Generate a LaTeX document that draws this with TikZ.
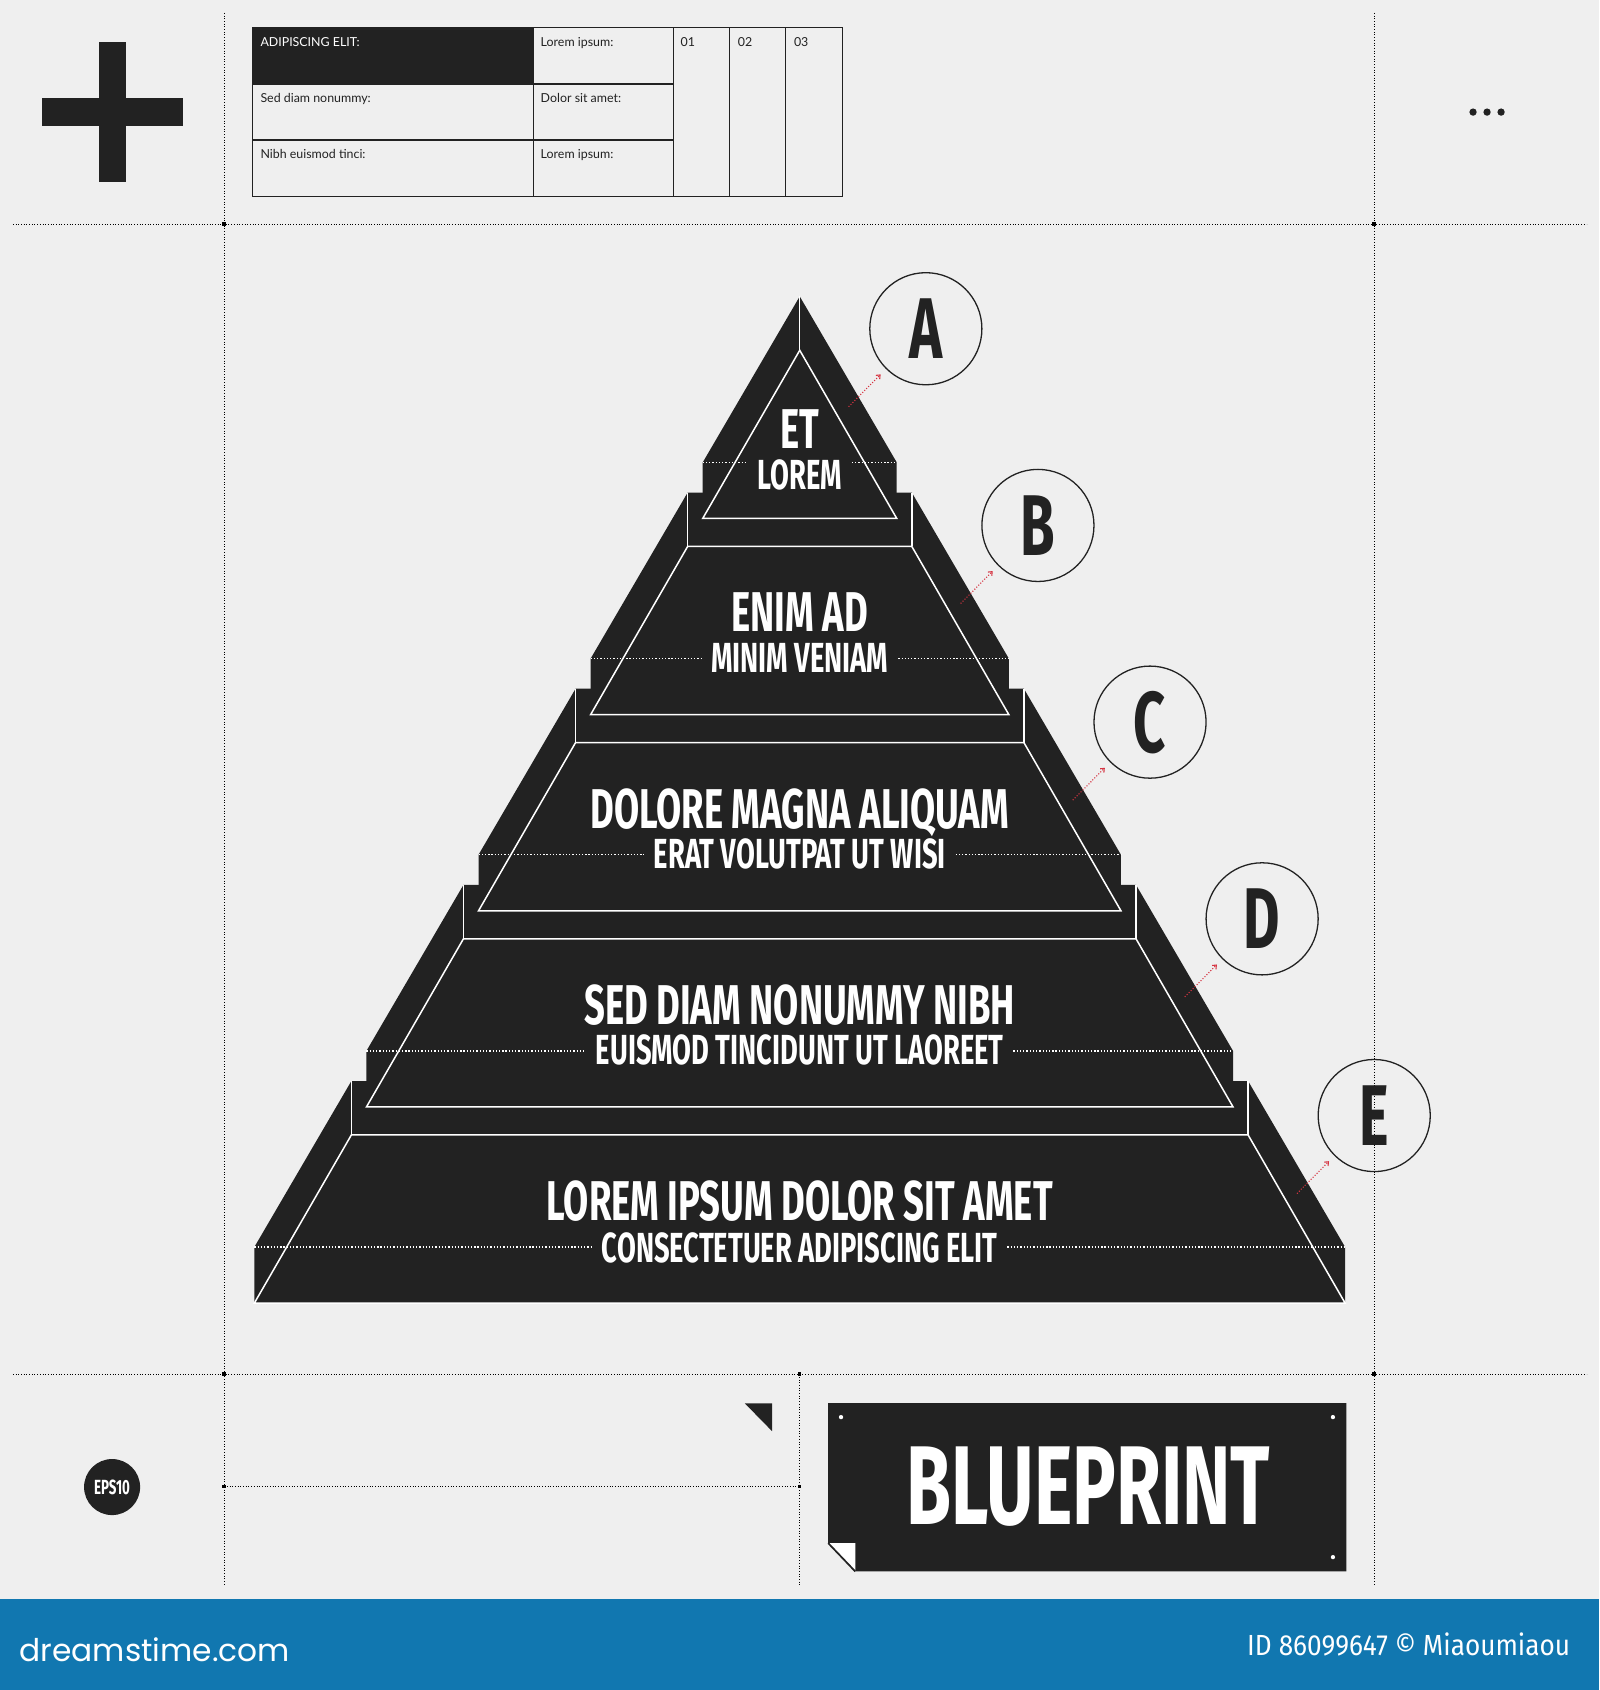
\documentclass[tikz,border=0pt]{standalone}
\usepackage{fontspec}
\usetikzlibrary{arrows.meta,calc}
\newfontfamily\bebas{Fira Sans}[FakeStretch=0.65]
\newfontfamily\tabfont{Lato}
\newfontfamily\idfont{Fira Sans}[FakeStretch=0.9]
\newfontfamily\logofont{Poppins}
\definecolor{bg}{RGB}{239,239,239}
\definecolor{ink}{RGB}{34,34,34}
\definecolor{banner}{RGB}{17,119,176}
\definecolor{arrowred}{RGB}{214,52,66}
\begin{document}
\begin{tikzpicture}[x=1pt,y=-1pt,
  guide/.style={draw=black, line width=0.9pt, dash pattern=on 0.9pt off 1.6pt},
  tabline/.style={draw=ink, line width=1.3pt},
  tabtext/.style={font=\tabfont\fontsize{11.5}{12}\selectfont, text=ink, anchor=base west, inner sep=0pt},
  wline/.style={draw=white, line width=1.4pt},
  wdot/.style={draw=white, line width=1.2pt, dash pattern=on 1.2pt off 1.8pt},
  tiertitle/.style={font=\bebas\bfseries\fontsize{52}{52}\selectfont, text=white, anchor=base, inner sep=0pt},
  tiersub/.style={font=\bebas\bfseries\fontsize{39}{39}\selectfont, text=white, anchor=base, inner sep=0pt},
  lettercirc/.style={circle, draw=ink, line width=1.2pt, minimum size=104pt, inner sep=0pt, text=ink, font=\bebas\bfseries\fontsize{80}{80}\selectfont},
  redarrow/.style={draw=arrowred, line width=1pt, dash pattern=on 1pt off 1.6pt, -{Straight Barb[length=3pt,width=5pt]}, shorten >=7pt},
  crossmark/.style={fill=black}
]
\useasboundingbox (0,0) rectangle (1484,1568);
\fill[bg] (0,0) rectangle (1484,1568);
% banner
\fill[banner] (0,1484) rectangle (1484,1568);
\node[font=\logofont\fontsize{29}{29}\selectfont, text=white, anchor=base west, inner sep=0pt] (logo) at (18,1542) {dreamstime.com};
\node[font=\idfont\fontsize{27}{27}\selectfont, text=white, anchor=base east, inner sep=0pt] (imgid) at (1457,1536) {ID 86099647 © Miaoumiaou};
% guides
\draw[guide] (12,208) -- (1472,208);
\draw[guide] (12,1275) -- (1472,1275);
\draw[guide] (208,12) -- (208,1471);
\draw[guide] (1275,12) -- (1275,1471);
\draw[guide] (742,1275) -- (742,1471);
\draw[guide] (208,1379) -- (742,1379);
\foreach \p in {(208,208),(1275,208),(208,1275),(1275,1275),(742,1275),(208,1379),(742,1379)}
  \fill[crossmark] \p ++(-1.6,-1.6) rectangle ++(3.2,3.2);
% plus
\fill[ink] (91.5,39.3) rectangle (117.1,169.3);
\fill[ink] (39.3,91.3) rectangle (169.4,117.1);
% dots
\foreach \x in {1366.7,1379.7,1392.7} \fill[ink] (\x,104) circle (3.4pt);
% table
\fill[ink] (234.2,25.7) rectangle (494.8,78);
\draw[tabline] (234.2,25.7) rectangle (781.4,182.5);
\draw[tabline] (234.2,78) -- (624.6,78);
\draw[tabline] (234.2,130) -- (624.6,130);
\foreach \x in {494.8,624.6,677.1,729} \draw[tabline] (\x,25.7) -- (\x,182.5);
\node[tabtext, text=white] (t11) at (241.5,43.3) {ADIPISCING ELIT:};
\node[tabtext] (t12) at (501.5,43.3) {Lorem ipsum:};
\node[tabtext] (t13) at (631.3,43.3) {01};
\node[tabtext] (t14) at (684.5,43.3) {02};
\node[tabtext] (t15) at (736.5,43.3) {03};
\node[tabtext] (t21) at (241.5,95) {Sed diam nonummy:};
\node[tabtext] (t22) at (501.5,95) {Dolor sit amet:};
\node[tabtext] (t31) at (241.5,147) {Nibh euismod tinci:};
\node[tabtext] (t32) at (501.5,147) {Lorem ipsum:};
% pyramid fills
\foreach \k in {0,...,4} {
  \pgfmathsetmacro\T{275+182*\k}
  \pgfmathsetmacro\D{429+182*\k}
  \pgfmathsetmacro\Y{481+182*\k}
  \pgfmathsetmacro\s{104*\k}
  \pgfmathsetmacro\b{104*\k+90}
  \fill[ink] (742-\s,\T) -- (742-\b,\D) -- (742-\b,\Y) -- (742+\b,\Y) -- (742+\b,\D) -- (742+\s,\T) -- cycle;
}
% tier texts
\node[tiertitle] (tt0) at (742,416) {ET};
\node[tiersub] (ts0) at (742,454) {LOREM};
\node[tiertitle] (tt1) at (742,586.2) {ENIM AD};
\node[tiersub] (ts1) at (742,624.3) {MINIM VENIAM};
\node[tiertitle] (tt2) at (742,768.7) {DOLORE MAGNA ALIQUAM};
\node[tiersub] (ts2) at (742,805.9) {ERAT VOLUTPAT UT WISI};
\node[tiertitle] (tt3) at (742,950.3) {SED DIAM NONUMMY NIBH};
\node[tiersub] (ts3) at (742,987.8) {EUISMOD TINCIDUNT UT LAOREET};
\node[tiertitle] (tt4) at (742,1132.3) {LOREM IPSUM DOLOR SIT AMET};
\node[tiersub] (ts4) at (742,1170.9) {CONSECTETUER ADIPISCING ELIT};
% pyramid lines
\foreach \k in {0,...,4} {
  \pgfmathsetmacro\T{275+182*\k}
  \pgfmathsetmacro\S{325+182*\k}
  \pgfmathsetmacro\D{429+182*\k}
  \pgfmathsetmacro\Y{481+182*\k}
  \pgfmathsetmacro\s{104*\k}
  \pgfmathsetmacro\b{104*\k+90}
  \draw[wdot] let \p1=(ts\k.west) in (742-\b,\D) -- (\x1-9pt,-\D pt);
  \draw[wdot] let \p1=(ts\k.east) in (\x1+9pt,-\D pt) -- (742+\b,\D);
  \draw[wline, line join=miter] (742-\s,\S) -- (742+\s,\S) -- (742+\b,\Y) -- (742-\b,\Y) -- cycle;
  \draw[wline] (742-\s,\T) -- (742-\s,\S);
  \draw[wline] (742+\s,\T) -- (742+\s,\S);
}
% letter circles and arrows
\foreach \L [count=\k from 0] in {A,B,C,D,E} {
  \node[lettercirc] (c\L) at (859+104*\k,305+182.5*\k) {\L};
  \coordinate (s\L) at (787.3+104*\k,377.4+182.5*\k);
  \draw[redarrow] (s\L) -- (c\L);
}
% bottom elements
\node[circle, fill=ink, minimum size=52pt, inner sep=0pt, text=white, font=\bebas\bfseries\fontsize{19}{19}\selectfont] (eps) at (104,1379.7) {EPS10};
\fill[ink] (691,1302) -- (716.3,1302) -- (716.3,1327.8) -- cycle;
\fill[ink] (768.4,1301.8) -- (1249.2,1301.8) -- (1249.2,1458) -- (793.5,1458) -- (768.4,1431.7) -- cycle;
\fill[white] (768.4,1431.7) -- (793.5,1431.7) -- (793.5,1458) -- cycle;
\draw[ink, line width=1.6pt] (768.4,1431.7) -- (793.5,1458);
\foreach \p in {(780.3,1314.8),(1236.7,1314.8),(1236.7,1444.7)} \fill[white] \p circle (2pt);
\node[font=\bebas\bfseries\fontsize{104}{104}\selectfont, text=white, anchor=base, inner sep=0pt] (bp) at (1009.7,1414.5) {BLUEPRINT};
\end{tikzpicture}
\end{document}
